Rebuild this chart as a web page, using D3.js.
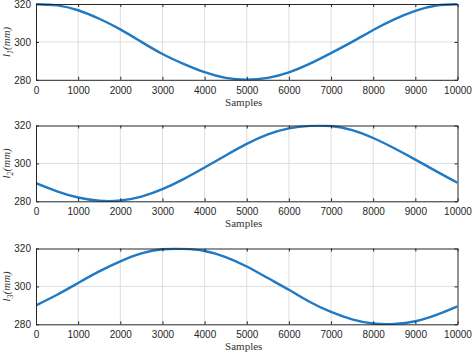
<!DOCTYPE html>
<html>
<head>
<meta charset="utf-8">
<script src="https://cdn.jsdelivr.net/npm/d3@7"></script>
<style>
  html, body { margin: 0; padding: 0; background: #fff; }
  svg { display: block; }
  .tick-label { font-family: "Liberation Sans", Arial, sans-serif; font-size: 10px; fill: #262626; }
  .serif { font-family: "Liberation Serif", "Times New Roman", serif; font-weight: normal; fill: #333; }
</style>
</head>
<body>
<div id="chart"></div>
<script>
// Sample index every 500 samples, leg lengths (mm)
const samples = [0, 500, 1000, 1500, 2000, 2500, 3000, 3500, 4000, 4500, 5000,
                 5500, 6000, 6500, 7000, 7500, 8000, 8500, 9000, 9500, 10000];
const l1 = [319.9, 319.3, 316.7, 312.2, 306.6, 300, 293.6, 288.4, 284, 281, 280.1,
            281, 283.9, 288.5, 294.1, 300, 306.3, 311.9, 316.4, 319.2, 319.9];
const l2 = [289.6, 285.3, 282, 280.3, 280.4, 282.5, 286.4, 291.7, 297.8, 304.2, 310.3,
            315.3, 318.5, 319.8, 319.7, 317.6, 313.4, 308, 302, 295.8, 289.8];
const l3 = [290, 295.6, 301.8, 307.9, 313.2, 317.4, 319.6, 319.8, 318.7, 315.5, 310.5,
            304.4, 298.2, 291.8, 286.5, 282.6, 280.4, 280.2, 281.6, 285, 289.5];

const xTicks = [0, 1000, 2000, 3000, 4000, 5000, 6000, 7000, 8000, 9000, 10000];
const yTicks = [280, 300, 320];
const series = [l1, l2, l3];
const subs = ['1', '2', '3'];

const width = 474, height = 355;
const left = 36, right = 457.5;
const panelTops = [4, 125.5, 248.5];
const panelH = 75.8;

const svg = d3.select('#chart').append('svg')
  .attr('width', width).attr('height', height);

const x = d3.scaleLinear().domain([0, 10000]).range([left, right]);

series.forEach((vals, i) => {
  const top = panelTops[i], bottom = top + panelH;
  const y = d3.scaleLinear().domain([280, 320]).range([bottom, top]);
  const g = svg.append('g');

  // grid lines
  g.append('g').selectAll('line').data(xTicks.slice(1, -1)).join('line')
    .attr('x1', d => x(d)).attr('x2', d => x(d))
    .attr('y1', top).attr('y2', bottom)
    .attr('stroke', '#dedede').attr('stroke-width', 1);
  g.append('g').selectAll('line').data(yTicks.slice(1, -1)).join('line')
    .attr('x1', left).attr('x2', right)
    .attr('y1', d => y(d)).attr('y2', d => y(d))
    .attr('stroke', '#dedede').attr('stroke-width', 1);

  // data line, clipped to the axes box
  const clipId = 'clip' + i;
  svg.append('clipPath').attr('id', clipId).append('rect')
    .attr('x', left).attr('y', top - 1).attr('width', right - left).attr('height', panelH + 2);
  const line = d3.line()
    .x((d, k) => x(samples[k]))
    .y(d => y(d))
    .curve(d3.curveNatural);
  g.append('path')
    .datum(vals)
    .attr('clip-path', `url(#${clipId})`)
    .attr('d', line)
    .attr('fill', 'none')
    .attr('stroke', '#2079c4')
    .attr('stroke-width', 2.4);

  // axes: bottom / left with labels, top / right as box with inward ticks
  const xAxis = d3.axisBottom(x).tickValues(xTicks).tickSize(-3).tickSizeOuter(0).tickPadding(7)
    .tickFormat(d3.format('d'));
  const xg = g.append('g').attr('transform', `translate(0,${bottom})`).call(xAxis);
  xg.select('.domain').attr('stroke', '#262626');
  xg.selectAll('line').attr('stroke', '#262626');
  xg.selectAll('text').attr('class', 'tick-label').attr('font-size', null).attr('font-family', null).attr('fill', null);

  const xTop = d3.axisTop(x).tickValues(xTicks).tickSize(-3).tickSizeOuter(0).tickFormat('');
  const xt = g.append('g').attr('transform', `translate(0,${top})`).call(xTop);
  xt.select('.domain').attr('stroke', '#262626');
  xt.selectAll('line').attr('stroke', '#262626');

  const yAxis = d3.axisLeft(y).tickValues(yTicks).tickSize(-3).tickSizeOuter(0).tickPadding(5);
  const yg = g.append('g').attr('transform', `translate(${left},0)`).call(yAxis);
  yg.select('.domain').attr('stroke', '#262626');
  yg.selectAll('line').attr('stroke', '#262626');
  yg.selectAll('text').attr('class', 'tick-label').attr('font-size', null).attr('font-family', null).attr('fill', null);

  const yRight = d3.axisRight(y).tickValues(yTicks).tickSize(-3).tickSizeOuter(0).tickFormat('');
  const yr = g.append('g').attr('transform', `translate(${right},0)`).call(yRight);
  yr.select('.domain').attr('stroke', '#262626');
  yr.selectAll('line').attr('stroke', '#262626');

  // x label
  g.append('text')
    .attr('class', 'serif')
    .attr('x', (left + right) / 2 - 3)
    .attr('y', bottom + 26)
    .attr('text-anchor', 'middle')
    .attr('font-size', 11)
    .text('Samples');

  // y label: l_i(mm)
  const yl = g.append('text')
    .attr('class', 'serif')
    .attr('transform', `translate(10,${(top + bottom) / 2}) rotate(-90)`)
    .attr('text-anchor', 'middle')
    .attr('font-size', 11)
    .attr('font-style', 'italic');
  yl.append('tspan').text('l');
  yl.append('tspan').attr('font-size', 8).attr('dy', 2.5).text(subs[i]);
  yl.append('tspan').attr('dy', -2.5).text('(mm)');
});
</script>
</body>
</html>
